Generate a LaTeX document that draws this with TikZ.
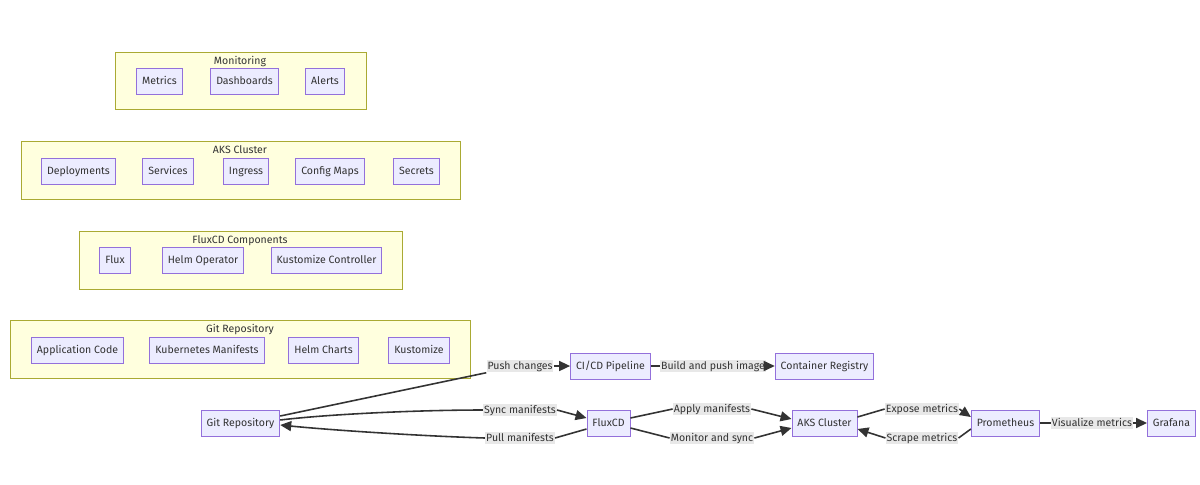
\documentclass[tikz,border=0pt]{standalone}
\usepackage{fontspec}
\setmainfont{Fira Sans}
\usetikzlibrary{arrows.meta}
\definecolor{nfill}{HTML}{ECECFF}\definecolor{nbord}{HTML}{9370DB}
\definecolor{cfill}{HTML}{FFFFDE}\definecolor{cbord}{HTML}{AAAA33}
\definecolor{lbg}{HTML}{E8E8E8}\definecolor{ink}{HTML}{333333}
\begin{document}
\begin{tikzpicture}[x=0.02cm,y=-0.02cm,font=\fontsize{6.0}{7.5}\selectfont,text=ink,
 box/.style={draw=nbord,fill=nfill,line width=0.5pt,minimum height=5.2mm,inner xsep=1.1mm,inner ysep=0pt,text height=1.8mm,text depth=0.3mm},
 clus/.style={draw=cbord,fill=cfill,line width=0.5pt},
 ttl/.style={text height=1.8mm,text depth=0.3mm},
 lbl/.style={fill=lbg,inner sep=0.5pt,text height=1.7mm,text depth=0.5mm},
 edge/.style={draw=ink,line width=0.9pt},
 arr/.style={edge,-{Triangle[length=2.2mm,width=2mm]}}]
\useasboundingbox (0,0) rectangle (1200,484);
% clusters
\draw[clus] (115,52) rectangle (366,109); \node[ttl] (tmon) at (240,61) {Monitoring};
\draw[clus] (21,141) rectangle (460,199); \node[ttl] (taks) at (240,150) {AKS Cluster};
\draw[clus] (79,231) rectangle (402,289); \node[ttl] (tflux) at (240,240) {FluxCD Components};
\draw[clus] (10,320) rectangle (470,378); \node[ttl] (tgit) at (240,329) {Git Repository};
\node[box] (m1) at (159.5,81) {Metrics};
\node[box] (m2) at (244.5,81) {Dashboards};
\node[box] (m3) at (325,81) {Alerts};
\node[box] (a1) at (78.5,171) {Deployments};
\node[box] (a2) at (168,171) {Services};
\node[box] (a3) at (246,171) {Ingress};
\node[box] (a4) at (330,171) {Config Maps};
\node[box] (a5) at (416.5,171) {Secrets};
\node[box] (f1) at (115,260) {Flux};
\node[box] (f2) at (203,260) {Helm Operator};
\node[box] (f3) at (326.5,260) {Kustomize Controller};
\node[box] (g1) at (77.5,350) {Application Code};
\node[box] (g2) at (207,350) {Kubernetes Manifests};
\node[box] (g3) at (323.5,350) {Helm Charts};
\node[box] (g4) at (419,350) {Kustomize};
% main nodes
\node[box] (git) at (240.5,423) {Git Repository};
\node[box] (ci) at (610.5,366) {CI/CD Pipeline};
\node[box] (reg) at (824.5,366) {Container Registry};
\node[box] (fx) at (608.5,423) {FluxCD};
\node[box] (aks) at (824.5,423) {AKS Cluster};
\node[box] (prom) at (1005.5,423) {Prometheus};
\node[box] (graf) at (1171.5,423) {Grafana};
% labels
\node[lbl] (lpush) at (520,366) {Push changes};
\node[lbl] (lbuild) at (713,366) {Build and push image};
\node[lbl] (lsync) at (520,410) {Sync manifests};
\node[lbl] (lpull) at (520,438) {Pull manifests};
\node[lbl] (lapply) at (712,409) {Apply manifests};
\node[lbl] (lmon) at (712,438) {Monitor and sync};
\node[lbl] (lexp) at (922,409) {Expose metrics};
\node[lbl] (lscr) at (922,438) {Scrape metrics};
\node[lbl] (lvis) at (1092,423) {Visualize metrics};
% edges
\draw[edge] (git.east |- 0,416) -- (lpush.south west);
\draw[arr] (lpush) -- (ci);
\draw[edge] (ci) -- (lbuild); \draw[arr] (lbuild) -- (reg);
\draw[edge] (git.east |- 0,420) .. controls (330,414) and (420,410) .. (lsync.west);
\draw[arr] (lsync.east) -- (fx.west |- 0,418);
\draw[edge] (fx.west |- 0,429) -- (lpull.east);
\draw[arr] (lpull.west) .. controls (420,436) and (330,430) .. (git.east |- 0,425);
\draw[edge] (fx.east |- 0,418) -- (lapply.west);
\draw[arr] (lapply.east) -- (aks.west |- 0,419);
\draw[edge] (fx.east |- 0,428) -- (lmon.west);
\draw[arr] (lmon.east) -- (aks.west |- 0,428);
\draw[edge] (aks.east |- 0,417) -- (lexp.west);
\draw[arr] (lexp.east) -- (prom.west |- 0,417);
\draw[edge] (prom.west |- 0,429) -- (lscr.east);
\draw[arr] (lscr.west) -- (aks.east |- 0,429);
\draw[edge] (prom) -- (lvis); \draw[arr] (lvis) -- (graf);
\end{tikzpicture}
\end{document}
